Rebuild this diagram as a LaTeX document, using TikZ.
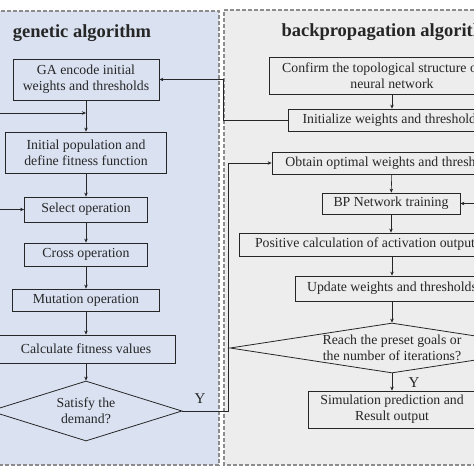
\documentclass[tikz,border=0pt]{standalone}
\usepackage{fontspec}
\setmainfont{Liberation Serif}
\usetikzlibrary{arrows.meta,shapes.geometric}
\definecolor{gablue}{HTML}{DAE2F2}
\definecolor{bpgrey}{HTML}{EDEDED}
\definecolor{edgegrey}{HTML}{8C8C8C}
\definecolor{inkdark}{HTML}{262626}

\begin{document}
\begin{tikzpicture}[x=1pt,y=-1pt,
		box/.style={draw=inkdark,line width=0.8pt,align=center,inner sep=0pt,
			font=\fontsize{13.8}{16}\selectfont,text=inkdark},
		decision/.style={box,diamond,inner xsep=-30pt,aspect=#1},
		flow/.style={draw=inkdark,line width=0.6pt,-{Stealth[length=4pt,width=3.5pt]}},
		link/.style={draw=inkdark,line width=0.6pt},
		panel/.style={draw=edgegrey,line width=1.1pt,dash pattern=on 4pt off 2pt},
		heading/.style={font=\fontsize{18.5}{20}\selectfont\bfseries,text=inkdark},
		answer/.style={font=\fontsize{15}{15}\selectfont,text=inkdark}]
		
		% Cadre de l'image
		\useasboundingbox (0,0) rectangle (474,474);
		\clip (0,0) rectangle (474,474);
		
		% Panneaux
		\fill[gablue] (-5,11) rectangle (219,465);
		\draw[panel] (-5,11) -- (219,11) -- (219,465) -- (-5,465);
		\fill[bpgrey] (224,10) rectangle (480,465);
		\draw[panel] (480,10) -- (224,10) -- (224,465) -- (480,465);
		
		% Titres
		\node[heading] (gatitle) at (82,33) {genetic algorithm};
		\node[heading,anchor=west] (bptitle) at (278,32) {backpropagation algorithm};
		
		% Algorithme genetique
		\node[box,minimum width=146,minimum height=41] (ga) at (86,79.5) {GA encode initial\\weights and thresholds};
		\node[box,minimum width=161,minimum height=41] (pop) at (86,152.5) {Initial population and\\define fitness function};
		\node[box,minimum width=123,minimum height=25] (sel) at (86,209.5) {Select operation};
		\node[box,minimum width=123,minimum height=23] (cross) at (86,254.5) {Cross operation};
		\node[box,minimum width=147,minimum height=22] (mut) at (86,300) {Mutation operation};
		\node[box,minimum width=178,minimum height=28] (calc) at (86,349) {Calculate fitness values};
		\node[decision=3.2,minimum width=192,minimum height=60] (sat) at (86,411) {Satisfy the\\demand?};
		
		% Retropropagation
		\node[box,minimum width=246,minimum height=37] (confirm) at (392,75.5) {Confirm the topological structure of the\\neural network};
		\node[box,minimum width=208,minimum height=22] (init) at (392,120) {Initialize weights and thresholds};
		\node[box,minimum width=240,minimum height=22] (obtain) at (392,163) {Obtain optimal weights and thresholds};
		\node[box,minimum width=138,minimum height=21] (bp) at (391,203.5) {BP Network training};
		\node[box,minimum width=252,minimum height=23] (pos) at (365,244.5) {Positive calculation of activation output};
		\node[box,minimum width=194,minimum height=25] (upd) at (392,288.5) {Update weights and thresholds};
		\node[decision=6.48,minimum width=324,minimum height=50] (reach) at (392,348) {Reach the preset goals or\\the number of iterations?};
		\node[box,minimum width=168,minimum height=37] (sim) at (392,409.5) {Simulation prediction and\\Result output};
		
		% Fleches verticales
		\foreach \a/\b in {ga/pop,pop/sel,sel/cross,cross/mut,mut/calc,calc/sat,
			confirm/init,obtain/bp,upd/reach,reach/sim}
		\draw[flow] (\a) -- (\b);
		\draw[flow] (bp) -- (bp |- pos.north);
		\draw[flow] (pos.south -| upd) -- (upd);
		
		% Liaisons entre les panneaux
		\coordinate (bendI) at (223,120);
		\draw[flow] (init.west) -- (bendI) |- (ga.east);
		\coordinate (bendY) at (228,411);
		\draw[flow] (sat.east) -- (bendY) |- (obtain.west);
		\node[answer] (yes1) at (200,399) {Y};
		\node[answer] (yes2) at (414,383) {Y};
		
		% Retours hors cadre
		\coordinate (fromL1) at (-2,113);
		\draw[flow] (fromL1) -- (fromL1 -| ga.south);
		\coordinate (fromL2) at (-2,209.5);
		\draw[flow] (fromL2) -- (sel.west);
		\coordinate (fromR) at (476,203.5);
		\draw[flow] (fromR) -- (bp.east);
		
	\end{tikzpicture}
\end{document}
